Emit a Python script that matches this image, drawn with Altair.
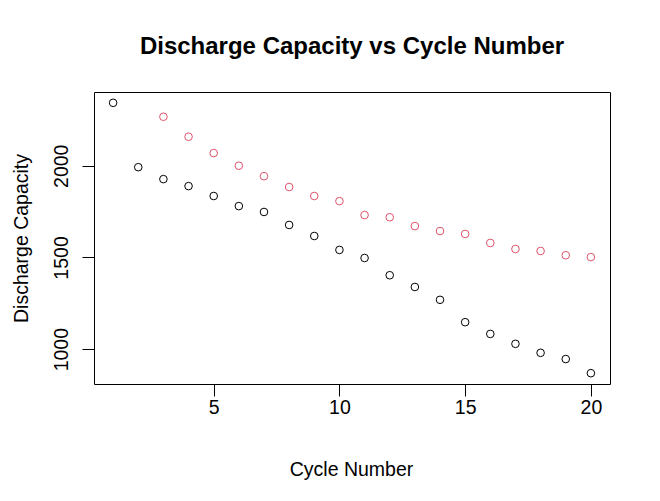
import altair as alt
import pandas as pd

cycles_a = list(range(1, 21))
capacity_a = [2343, 1992, 1927, 1889, 1835, 1780, 1748, 1677, 1617, 1541,
              1497, 1403, 1339, 1269, 1147, 1083, 1029, 980, 946, 869]
cycles_b = list(range(3, 21))
capacity_b = [2267, 2158, 2069, 2000, 1943, 1884, 1835, 1807, 1731, 1719,
              1671, 1644, 1628, 1579, 1546, 1535, 1512, 1502]
series_names = ["Series 1", "Series 2"]
series_colors = ["#000000", "#DF536B"]
x_ticks = [5, 10, 15, 20]
y_ticks = [1000, 1500, 2000]

df = pd.concat([
    pd.DataFrame({"cycle": cycles_a, "capacity": capacity_a, "series": series_names[0]}),
    pd.DataFrame({"cycle": cycles_b, "capacity": capacity_b, "series": series_names[1]}),
])

FONT = "Liberation Sans"
W, H = 516, 292

chart = alt.Chart(df).mark_point(shape="circle", filled=False, size=58, strokeWidth=1, opacity=1).encode(
    x=alt.X("cycle:Q",
            scale=alt.Scale(domain=[0.24, 20.76], nice=False, zero=False),
            axis=alt.Axis(values=x_ticks, format="d", title="Cycle Number", grid=False, domain=False,
                          tickSize=12, tickColor="black", tickWidth=1,
                          labelFont=FONT, labelFontSize=19.5, labelColor="black",
                          labelPadding=17, labelBaseline="alphabetic", labelFlush=False,
                          titleFont=FONT, titleFontSize=19.5, titleFontWeight="normal",
                          titleColor="black", titleBaseline="alphabetic",
                          titleX=W / 2 - 1, titleY=91.7, titleAlign="center")),
    y=alt.Y("capacity:Q",
            scale=alt.Scale(domain=[810, 2402], nice=False, zero=False),
            axis=alt.Axis(values=y_ticks, format="d", title="Discharge Capacity", grid=False, domain=False,
                          tickSize=12, tickColor="black", tickWidth=1,
                          labelFont=FONT, labelFontSize=19.5, labelColor="black",
                          labelAngle=270, labelAlign="center", labelBaseline="alphabetic",
                          labelPadding=15, labelFlush=False,
                          titleFont=FONT, titleFontSize=19.5, titleFontWeight="normal",
                          titleColor="black", titleAngle=270, titleBaseline="alphabetic",
                          titleAlign="center", titleX=-67, titleY=H / 2)),
    color=alt.Color("series:N",
                    scale=alt.Scale(domain=series_names, range=series_colors),
                    legend=None),
).properties(
    width=W,
    height=H,
    title=alt.TitleParams("Discharge Capacity vs Cycle Number", font=FONT, fontSize=24,
                          fontWeight="bold", color="black", anchor="middle",
                          baseline="alphabetic", offset=14.5),
    autosize=alt.AutoSizeParams(type="none"),
    padding={"left": 86, "top": 84, "right": 40, "bottom": 100},
).configure(
    background="white"
).configure_view(
    stroke="black", strokeWidth=1
)

chart.save("out.html", embed_options={"renderer": "svg", "actions": False})
